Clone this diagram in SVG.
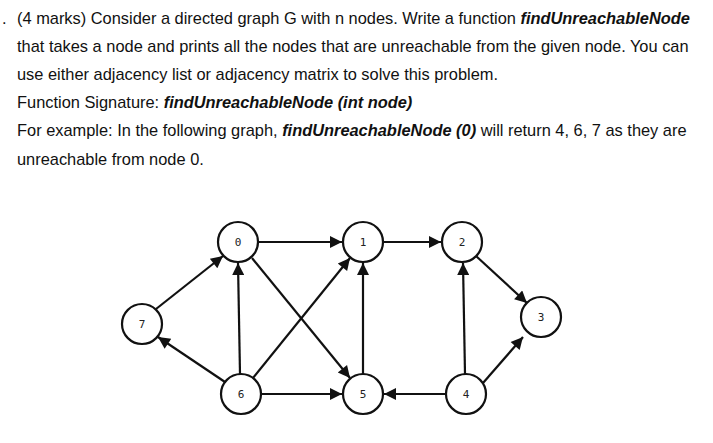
<svg xmlns="http://www.w3.org/2000/svg" width="713" height="443" viewBox="0 0 713 443">
<style>
.t{font-family:"Liberation Sans",Arial,sans-serif;font-size:16.4px;fill:#111}
.b{font-weight:bold;font-style:italic}
.n circle{fill:#fff;stroke:#111;stroke-width:2.2}
.n text{font-family:"DejaVu Sans Mono",monospace;font-size:11px;fill:#222;text-anchor:middle}
#edges line{stroke:#111;stroke-width:2.2}
</style>
<defs><marker id="a" viewBox="0 0 10 10" refX="10" refY="5" markerWidth="14" markerHeight="12" markerUnits="userSpaceOnUse" orient="auto"><path d="M0,0L10,5L0,10z" fill="#111"/></marker></defs>
<rect width="713" height="443" fill="#fff"/>
<text class="t" x="2" y="24">.</text>
<text class="t" x="17" y="24">(4 marks) Consider a directed graph G with n nodes. Write a function <tspan class="b">findUnreachableNode</tspan></text>
<text class="t" x="17" y="52">that takes a node and prints all the nodes that are unreachable from the given node. You can</text>
<text class="t" x="17" y="80">use either adjacency list or adjacency matrix to solve this problem.</text>
<text class="t" x="17" y="108">Function Signature: <tspan class="b">findUnreachableNode (int node)</tspan></text>
<text class="t" x="17" y="136">For example: In the following graph, <tspan class="b">findUnreachableNode (0)</tspan> will return 4, 6, 7 as they are</text>
<text class="t" x="17" y="165">unreachable from node 0.</text>
<g id="edges">
<line x1="258" y1="242" x2="342" y2="242" marker-end="url(#a)"/>
<line x1="383" y1="242" x2="441" y2="242" marker-end="url(#a)"/>
<line x1="476" y1="256" x2="527" y2="303" marker-end="url(#a)"/>
<line x1="483" y1="383" x2="523" y2="337" marker-end="url(#a)"/>
<line x1="465" y1="374" x2="463" y2="263" marker-end="url(#a)"/>
<line x1="446" y1="394" x2="384" y2="394" marker-end="url(#a)"/>
<line x1="261" y1="394" x2="342" y2="394" marker-end="url(#a)"/>
<line x1="240" y1="374" x2="238" y2="263" marker-end="url(#a)"/>
<line x1="253" y1="378" x2="350" y2="258" marker-end="url(#a)"/>
<line x1="252" y1="258" x2="350" y2="378" marker-end="url(#a)"/>
<line x1="363" y1="374" x2="363" y2="263" marker-end="url(#a)"/>
<line x1="156" y1="309" x2="223" y2="256" marker-end="url(#a)"/>
<line x1="225" y1="382" x2="158" y2="337" marker-end="url(#a)"/>
</g>
<g id="n0" class="n"><circle cx="238" cy="242" r="20"/><text x="238" y="246">0</text></g>
<g id="n1" class="n"><circle cx="363" cy="242" r="20"/><text x="363" y="246">1</text></g>
<g id="n2" class="n"><circle cx="462" cy="242" r="20"/><text x="462" y="246">2</text></g>
<g id="n3" class="n"><circle cx="541" cy="317" r="20"/><text x="541" y="321">3</text></g>
<g id="n4" class="n"><circle cx="466" cy="394" r="20"/><text x="466" y="398">4</text></g>
<g id="n5" class="n"><circle cx="363" cy="394" r="20"/><text x="363" y="398">5</text></g>
<g id="n6" class="n"><circle cx="241" cy="394" r="20"/><text x="241" y="398">6</text></g>
<g id="n7" class="n"><circle cx="142" cy="324" r="20"/><text x="142" y="328">7</text></g>
</svg>
